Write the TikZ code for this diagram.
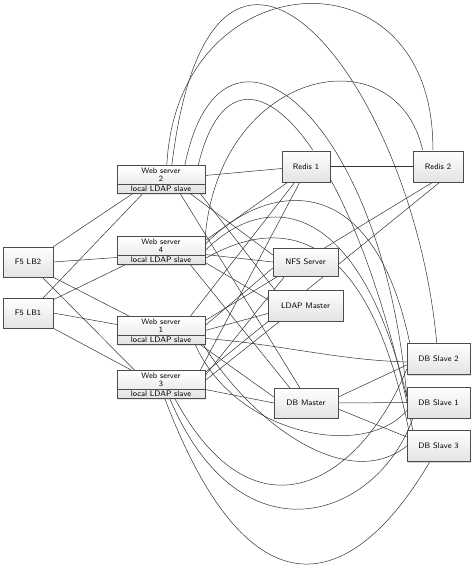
\documentclass[tikz,border=0pt]{standalone}
\usepackage{tikz}
\usetikzlibrary{shapes.multipart, positioning, backgrounds, shadows}

\begin{document}
\begin{tikzpicture}[
  x=1pt, y=1pt,
  font=\fontsize{8}{8.5}\selectfont\sffamily,
  box/.style={draw=black!70, top color=white, bottom color=gray!22, drop shadow={opacity=0.3, shadow xshift=1.2pt, shadow yshift=-1.2pt}, inner sep=2pt, align=center},
  web/.style={box, rectangle split, rectangle split parts=2, text width=84pt, inner ysep=1.8pt},
  link/.style={draw=black!80, line width=0.5pt}
]
\useasboundingbox (0,0) rectangle (474,-569);

% Load balancers
\node[box, minimum width=50pt, minimum height=30pt] (lb2) at (28,-262) {F5 LB2};
\node[box, minimum width=50pt, minimum height=30pt] (lb1) at (28,-313) {F5 LB1};

% Web servers
\node[web] (ws2) at (161,-179.5) {Web server\\2 \nodepart{two} local LDAP slave};
\node[web] (ws4) at (161,-250.5) {Web server\\4 \nodepart{two} local LDAP slave};
\node[web] (ws1) at (161,-330.5) {Web server\\1 \nodepart{two} local LDAP slave};
\node[web] (ws3) at (161,-384.5) {Web server\\3 \nodepart{two} local LDAP slave};

% Services
\node[box, minimum width=48pt, minimum height=31pt] (redis1) at (306,-166.5) {Redis 1};
\node[box, minimum width=50pt, minimum height=31pt] (redis2) at (438,-166.5) {Redis 2};
\node[box, minimum width=65pt, minimum height=28pt] (nfs) at (305.5,-262) {NFS Server};
\node[box, minimum width=75pt, minimum height=31pt] (ldap) at (305.5,-305.5) {LDAP Master};
\node[box, minimum width=64pt, minimum height=30pt] (dbm) at (306,-403) {DB Master};
\node[box, minimum width=63pt, minimum height=31pt] (dbs2) at (438.5,-359) {DB Slave 2};
\node[box, minimum width=63pt, minimum height=31pt] (dbs1) at (438.5,-402.5) {DB Slave 1};
\node[box, minimum width=63pt, minimum height=31pt] (dbs3) at (438.5,-446) {DB Slave 3};

\begin{scope}[on background layer]
\fill[white] (0,0) rectangle (474,-569);

% load balancers to web servers
\draw[link] (lb2.north east) -- ([xshift=16pt]ws2.south west);
\draw[link] (lb2.east) -- ([yshift=-7pt]ws4.west);
\draw[link] (lb2.south east) -- ([xshift=13pt]ws1.north west);
\draw[link] ([xshift=-11pt]lb2.south east) -- ([xshift=18pt]ws3.north west);
\draw[link] ([xshift=-10pt]lb1.north east) -- ([xshift=26pt]ws2.south west);
\draw[link] ([yshift=-2pt]lb1.north east) -- ([xshift=9pt]ws4.south west);
\draw[link] (lb1.east) -- ([yshift=6pt]ws1.west);
\draw[link] (lb1.south east) -- ([xshift=15pt]ws3.north west);

% web server 2
\draw[link] ([yshift=4pt]ws2.east) -- ([yshift=-2pt]redis1.west);
\draw[link] ([xshift=-15pt]ws2.south east) -- ([yshift=7pt]nfs.west);
\draw[link] ([xshift=-5pt]ws2.south east) -- ([xshift=7pt]ldap.north west);
\draw[link] ([xshift=-25pt]ws2.south east) -- ([xshift=26pt]dbm.north west);
\draw[link] ([xshift=50pt]ws2.north west) .. controls +(10,206) and +(3,206) .. ([xshift=20pt]redis2.north west);
\draw[link] ([xshift=55pt]ws2.north west) .. controls +(40,330) and +(-25,270) .. ([xshift=30pt]dbs2.north west);
\draw[link] ([xshift=68pt]ws2.north west) .. controls +(36,180) and +(-25,285) .. ([yshift=6pt]dbs1.west);
\draw[link] ([xshift=-7pt]ws2.north east) .. controls +(36,151) and +(-60,300) .. ([xshift=6pt]dbs3.north west);

% web server 4
\draw[link] ([yshift=10pt]ws4.east) -- ([xshift=6pt]redis1.south west);
\draw[link] (ws4.north east) .. controls +(15,170) and +(-26,118) .. ([xshift=10pt]redis2.north west);
\draw[link] ([yshift=-4pt]ws4.east) -- (nfs.west);
\draw[link] ([yshift=-12pt]ws4.east) -- ([yshift=6pt]ldap.west);
\draw[link] ([xshift=-15pt]ws4.south east) -- ([xshift=16pt]dbm.north west);
\draw[link] ([yshift=6pt]ws4.east) .. controls +(51,55) and +(-40,190) .. ([xshift=3pt]dbs2.north west);
\draw[link] (ws4.east) .. controls +(60,60) and +(-49,201) .. ([yshift=6pt]dbs1.west);
\draw[link] ([yshift=-8pt]ws4.east) .. controls +(70,40) and +(-43,212) .. ([xshift=2pt]dbs3.north west);

% web server 1
\draw[link] ([xshift=-15pt]ws1.north east) -- ([xshift=13pt]redis1.south west);
\draw[link] ([yshift=10pt]ws1.east) -- ([xshift=20pt]redis2.south west);
\draw[link] ([yshift=5pt]ws1.east) -- ([yshift=-6pt]nfs.west);
\draw[link] (ws1.east) -- ([yshift=-8pt]ldap.west);
\draw[link] ([xshift=-5pt]ws1.south east) -- ([yshift=6pt]dbm.west);
\draw[link] ([yshift=-8pt]ws1.east) .. controls +(70,-5) and +(-70,2) .. ([yshift=-3pt]dbs2.west);
\draw[link] ([xshift=-10pt]ws1.south east) .. controls +(40,-90) and +(-43,-50) .. ([yshift=-8pt]dbs1.west);
\draw[link] ([xshift=-2pt]ws1.south east) .. controls +(50,-80) and +(-59,-47) .. (dbs3.west);

% web server 3
\draw[link] ([xshift=-5pt]ws3.north east) -- ([xshift=18pt]redis1.south west);
\draw[link] ([yshift=12pt]ws3.east) -- ([xshift=27pt]redis2.south west);
\draw[link] ([yshift=9pt]ws3.east) -- ([xshift=12pt]nfs.south west);
\draw[link] ([yshift=4pt]ws3.east) -- ([xshift=12pt]ldap.south west);
\draw[link] ([yshift=-5pt]ws3.east) -- (dbm.west);
\draw[link] ([xshift=48pt]ws3.south west) .. controls +(90,-237) and +(-70,-120) .. ([xshift=23pt]dbs3.south west);
\draw[link] ([xshift=53pt]ws3.south west) .. controls +(71,-168) and +(-35,-100) .. ([xshift=6pt]dbs1.south west);
\draw[link] ([xshift=58pt]ws3.south west) .. controls +(82,-151) and +(-45,-110) .. ([yshift=-10pt]dbs2.west);

% redis and database replication
\draw[link] (redis1) -- (redis2);
\draw[link] ([yshift=6pt]dbm.east) -- ([yshift=-6pt]dbs2.west);
\draw[link] (dbm.east) -- (dbs1.west);
\draw[link] ([yshift=-6pt]dbm.east) -- ([yshift=9pt]dbs3.west);
\end{scope}

\end{tikzpicture}
\end{document}
